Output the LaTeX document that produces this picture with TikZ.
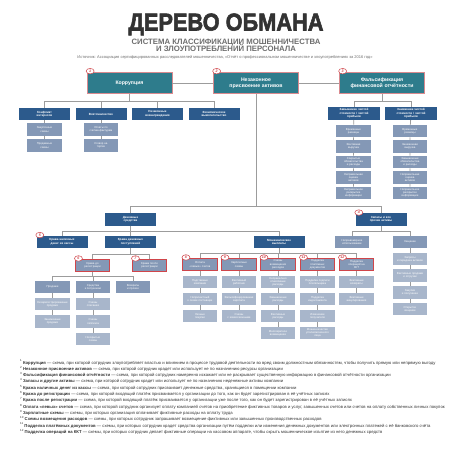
\documentclass[tikz,border=0pt]{standalone}
\usepackage{graphicx}
\usepackage{fontspec}
\setmainfont{Liberation Sans}
\newfontfamily\titlefont[BoldFeatures={FakeBold=2.5}]{Liberation Sans}
\usetikzlibrary{shapes.geometric}

\definecolor{tealfill}{HTML}{2E7C8C}
\definecolor{pinkedge}{HTML}{D98A8F}
\definecolor{darkfill}{HTML}{2C5A8C}
\definecolor{midfill}{HTML}{8498B6}
\definecolor{lightfill}{HTML}{A8B6CB}
\definecolor{markred}{HTML}{D0454A}
\definecolor{wiregray}{HTML}{9C9C9C}
\definecolor{titlegray}{HTML}{333333}
\definecolor{subgray}{HTML}{6E6E6E}

\tikzset{
  basebox/.style={rectangle, text=white, align=center, inner sep=0.3pt,
    font=\fontsize{2.8}{3.2}\selectfont},
  catbox/.style={basebox, fill=tealfill, draw=pinkedge, line width=0.7bp,
    minimum width=85bp, minimum height=21bp, text width=80bp,
    font=\fontsize{5.2}{6.2}\selectfont\bfseries},
  groupbox/.style={basebox, fill=darkfill, minimum width=51bp,
    minimum height=12.5bp, text width=49bp,
    font=\fontsize{3}{3.5}\selectfont\bfseries},
  kindbox/.style={basebox, fill=midfill, minimum width=34.5bp,
    minimum height=12.5bp, text width=33bp},
  leafbox/.style={basebox, fill=lightfill, minimum width=34.5bp,
    minimum height=12.5bp, text width=33bp},
  flagbox/.style={kindbox, draw=markred, line width=0.6bp},
  numtag/.style={ellipse, draw=markred, fill=white, text=markred,
    line width=0.5bp, inner sep=0pt, minimum width=8bp, minimum height=5.5bp,
    font=\fontsize{3.6}{3.6}\selectfont\bfseries\itshape},
  wire/.style={draw=wiregray, line width=0.8bp},
  subline/.style={anchor=base, inner sep=0pt, text=subgray,
    font=\fontsize{7.8}{7.8}\selectfont\bfseries},
  notetext/.style={anchor=base west, inner sep=0pt, text=black!80,
    font=\fontsize{4.25}{5}\selectfont},
}

\begin{document}
\begin{tikzpicture}[x=1bp,y=-1bp]
\useasboundingbox[fill=white] (0,0) rectangle (453,453);

% heading
\node[anchor=base, inner sep=0pt, text=titlegray] (title) at (226,30.5)
  {\resizebox{195bp}{17bp}{\titlefont\bfseries ДЕРЕВО ОБМАНА}};
\node[subline] (subtitle1) at (226,44.5) {СИСТЕМА КЛАССИФИКАЦИИ МОШЕННИЧЕСТВА};
\node[subline] (subtitle2) at (226,51.3) {И ЗЛОУПОТРЕБЛЕНИЙ ПЕРСОНАЛА};
\node[inner sep=0pt, text=subgray] (source) at (225,57.8)
  {\resizebox{295bp}{!}{\fontsize{3}{3}\selectfont Источник: Ассоциация сертифицированных расследователей мошенничества, «Отчёт о профессиональном мошенничестве и злоупотреблениях за 2016 год»}};

% top level
\node[catbox] (corr) at (129.5,83) {Коррупция};
\node[catbox] (assets) at (256,83) {Незаконное\\присвоение активов};
\node[catbox] (fin) at (382,83) {Фальсификация\\финансовой отчётности};
\node[numtag] (tag1) at ([xshift=3.5bp,yshift=1bp]corr.north west) {1};
\node[numtag] (tag2) at ([xshift=3.5bp,yshift=1bp]assets.north west) {2};
\node[numtag] (tag3) at ([xshift=3.5bp,yshift=1bp]fin.north west) {3};
\draw[wire] (corr) -- (assets);
\draw[wire] (assets) -- (fin);

% corruption
\node[groupbox] (conf) at (44.5,114) {Конфликт\\интересов};
\node[groupbox] (bribe) at (101,114) {Взяточничество};
\node[groupbox] (grat) at (157.5,114) {Незаконные\\вознаграждения};
\node[groupbox] (extort) at (214,114) {Экономическое\\вымогательство};
\foreach \c in {conf,bribe,grat,extort}
  \draw[wire] (corr.south) -- ++(0,7.5) -| (\c.north);

\node[kindbox] (conf1) at (44.5,129.5) {Закупочные\\схемы};
\node[kindbox] (conf2) at (44.5,145.5) {Продажные\\схемы};
\node[kindbox] (bribe1) at (101,129.5) {Откаты по\\счетам-фактурам};
\node[kindbox] (bribe2) at (101,145.5) {Сговор на\\торгах};
\draw[wire] (conf) -- (conf1) -- (conf2);
\draw[wire] (bribe) -- (bribe1) -- (bribe2);

% financial statements
\node[groupbox, minimum width=52bp, minimum height=13bp] (over) at (354,113.5)
  {Завышение чистой\\стоимости / чистой\\прибыли};
\node[groupbox, minimum width=52bp, minimum height=13bp] (under) at (411,113.5)
  {Занижение чистой\\стоимости / чистой\\прибыли};
\foreach \c in {over,under}
  \draw[wire] (fin.south) -- ++(0,7.5) -| (\c.north);

\foreach \txt [count=\i] in {Временные\\разницы, Фиктивная\\выручка,
    Сокрытые\\обязательства\\и расходы, Неправильная\\оценка\\активов,
    Неправильное\\раскрытие\\информации}
  \node[kindbox] (over\i) at (353.5,{131+15.5*(\i-1)}) {\txt};
\foreach \txt [count=\i] in {Временные\\разницы, Заниженная\\выручка,
    Завышенные\\обязательства\\и расходы, Неправильная\\оценка\\активов,
    Неправильное\\раскрытие\\информации}
  \node[kindbox] (under\i) at (410,{131+15.5*(\i-1)}) {\txt};
\draw[wire] (over) -- (over1) -- (over2) -- (over3) -- (over4) -- (over5);
\draw[wire] (under) -- (under1) -- (under2) -- (under3) -- (under4) -- (under5);

% asset misappropriation
\node[groupbox] (cash) at (130.5,219.5) {Денежные\\средства};
\node[groupbox] (other) at (381,219.5) {Запасы и все\\прочие активы};
\node[numtag] (tag4) at ([xshift=3.5bp,yshift=0.5bp]other.north west) {4};
\foreach \c in {cash,other}
  \draw[wire] (assets.south) -- ++(0,113) -| (\c.north);

\node[groupbox] (onhand) at (62,242) {Кража наличных\\денег из кассы};
\node[groupbox] (receipts) at (130.5,242) {Кража денежных\\поступлений};
\node[groupbox] (disb) at (279,242) {Мошеннические\\выплаты};
\node[numtag] (tag5) at ([xshift=3.5bp,yshift=0.5bp]onhand.north west) {5};
\foreach \c in {onhand,receipts,disb}
  \draw[wire] (cash.south) -- ++(0,5.5) -| (\c.north);

% receipts
\node[flagbox] (skim) at (92.5,265.5) {Кража до\\регистрации};
\node[flagbox] (larc) at (149.5,265.5) {Кража после\\регистрации};
\node[numtag] (tag6) at ([xshift=3.5bp,yshift=0.5bp]skim.north west) {6};
\node[numtag] (tag7) at ([xshift=3.5bp,yshift=0.5bp]larc.north west) {7};
\foreach \c in {skim,larc}
  \draw[wire] (receipts.south) -- ++(0,5.5) -| (\c.north);

\node[kindbox] (sales) at (52.5,287) {Продажи};
\node[kindbox] (recv) at (93,287) {Средства\\к получению};
\node[kindbox] (refund) at (133,287) {Возвраты\\и прочее};
\foreach \c in {sales,recv,refund}
  \draw[wire] (skim.south) -- ++(0,4.5) -| (\c.north);

\node[leafbox] (sales1) at (52.5,304) {Незарегистрированные\\продажи};
\node[leafbox] (sales2) at (52.5,321.5) {Заниженные\\продажи};
\node[leafbox] (recv1) at (93,304) {Схемы\\списания};
\node[leafbox] (recv2) at (93,321.5) {Схемы\\лэппинга};
\node[leafbox] (recv3) at (93,339) {Нескрытые\\схемы};
\draw[wire] (sales) -- (sales1) -- (sales2);
\draw[wire] (recv) -- (recv1) -- (recv2) -- (recv3);

% disbursements
\foreach \x/\name/\txt [count=\i from 8] in {
    200/bill/Оплата\\«левых» счетов,
    239/payroll/Зарплатные\\схемы,
    278/expense/Схемы\\возмещения\\расходов,
    317.5/cheque/Подделка\\платёжных\\документов,
    356.5/register/Подделка\\операций на\\ККТ}
{
  \node[flagbox] (\name) at (\x,264.5) {\txt};
  \node[numtag] (tag\i) at ([xshift=3.5bp,yshift=0.5bp]\name.north west) {\i};
  \draw[wire] (disb.south) -- ++(0,5) -| (\name.north);
}

\foreach \txt [count=\i] in {Подставные\\компании, Непричастный\\к схеме поставщик,
    Личные\\покупки}
  \node[leafbox] (bill\i) at (200,{282+17*(\i-1)}) {\txt};
\foreach \txt [count=\i] in {Фиктивный\\работник, Фальсифицированная\\зарплата,
    Схемы\\с комиссионными}
  \node[leafbox] (payroll\i) at (239,{282+17*(\i-1)}) {\txt};
\foreach \txt [count=\i] in {Неправильно\\отнесённые\\расходы, Завышенные\\расходы,
    Фиктивные\\расходы, Многократное\\возмещение}
  \node[leafbox] (expense\i) at (278,{282+17*(\i-1)}) {\txt};
\foreach \txt [count=\i] in {Подделка подписи\\плательщика, Подделка\\индоссамента,
    Изменение\\получателя, Мошенничество\\уполномоченного\\лица}
  \node[leafbox] (cheque\i) at (317.5,{282+17*(\i-1)}) {\txt};
\foreach \txt [count=\i] in {Фиктивные\\возвраты, Фиктивные\\аннулирования}
  \node[leafbox] (register\i) at (356.5,{282+17*(\i-1)}) {\txt};

\draw[wire] (bill) -- (bill1) -- (bill2) -- (bill3);
\draw[wire] (payroll) -- (payroll1) -- (payroll2) -- (payroll3);
\draw[wire] (expense) -- (expense1) -- (expense2) -- (expense3) -- (expense4);
\draw[wire] (cheque) -- (cheque1) -- (cheque2) -- (cheque3) -- (cheque4);
\draw[wire] (register) -- (register1) -- (register2);

% inventory and other assets
\node[kindbox] (misuse) at (352,242) {Неправомерное\\использование};
\node[kindbox] (larceny) at (410,242) {Хищение};
\foreach \c in {misuse,larceny}
  \draw[wire] (other.south) -- ++(0,5) -| (\c.north);
\foreach \txt [count=\i] in {Запросы\\и передача активов, Фиктивные продажи\\и отгрузки,
    Закупки\\и получение, Открытое\\хищение}
  \node[leafbox] (larceny\i) at (410,{259+16.7*(\i-1)}) {\txt};
\draw[wire] (larceny) -- (larceny1) -- (larceny2) -- (larceny3) -- (larceny4);

% footnotes
\foreach \term/\gloss [count=\i] in {
  {Коррупция}/{схема, при которой сотрудник злоупотребляет властью и влиянием в процессе трудовой деятельности во вред своим должностным обязанностям, чтобы получить прямую или непрямую выгоду},
  {Незаконное присвоение активов}/{схема, при которой сотрудник крадет или использует не по назначению ресурсы организации},
  {Фальсификация финансовой отчётности}/{схема, при которой сотрудник намеренно искажает или не раскрывает существенную информацию в финансовой отчётности организации},
  {Запасы и другие активы}/{схема, при которой сотрудник крадет или использует не по назначению неденежные активы компании},
  {Кража наличных денег из кассы}/{схема, при которой сотрудник присваивает денежные средства, хранящиеся в помещении компании},
  {Кража до регистрации}/{схема, при которой входящий платёж присваивается у организации до того, как он будет зарегистрирован в её учётных записях},
  {Кража после регистрации}/{схема, при которой входящий платёж присваивается у организации уже после того, как он будет зарегистрирован в её учётных записях},
  {Оплата «левых» счетов}/{схема, при которой сотрудник организует оплату компанией счетов на приобретение фиктивных товаров и услуг, завышенных счетов или счетов на оплату собственных личных покупок},
  {Зарплатные схемы}/{схемы, при которых организация оплачивает фиктивные расходы на оплату труда},
  {Схемы возмещения расходов}/{схемы, при которых сотрудник запрашивает возмещение фиктивных или завышенных производственных расходов},
  {Подделка платёжных документов}/{схемы, при которых сотрудник крадет средства организации путём подделки или изменения денежных документов или электронных платежей с её банковского счёта},
  {Подделка операций на ККТ}/{схемы, при которых сотрудник делает фиктивные операции на кассовом аппарате, чтобы скрыть мошенническое изъятие из него денежных средств}}
  \node[notetext] (note\i) at (20,{364+6.3*(\i-1)})
    {\textsuperscript{\i}\,\textbf{\term} — \gloss};

\end{tikzpicture}
\end{document}
